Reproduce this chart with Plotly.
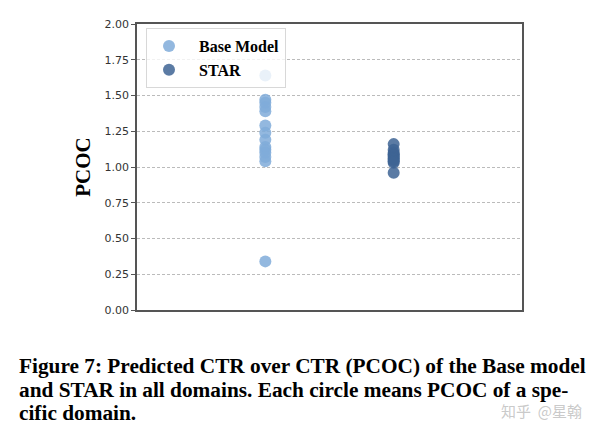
import plotly.graph_objects as go

models = ["Base Model", "STAR"]
base_pcoc = [1.64, 1.47, 1.45, 1.42, 1.39, 1.29, 1.24, 1.19, 1.14, 1.12, 1.10, 1.07, 1.04, 0.34]
star_pcoc = [1.16, 1.12, 1.10, 1.09, 1.08, 1.07, 1.06, 1.05, 1.04, 1.03, 0.96]
y_ticks = [0.0, 0.25, 0.5, 0.75, 1.0, 1.25, 1.5, 1.75, 2.0]
colors = ["rgba(128,172,217,0.85)", "rgba(62,100,148,0.85)"]

W, H = 600, 430
PL, PR, PT, PB = 137, 522, 24, 310
pw, ph = PR - PL, PB - PT

fig = go.Figure()
for i, (name, vals) in enumerate(zip(models, [base_pcoc, star_pcoc])):
    fig.add_trace(go.Scatter(
        x=[i + 1] * len(vals), y=vals, mode="markers",
        name="\u00a0\u00a0<b>" + name + "</b>",
        marker=dict(size=12, color=colors[i], line=dict(width=0)),
    ))

fig.update_layout(
    width=W, height=H,
    margin=dict(l=PL, r=W - PR, t=PT, b=H - PB, autoexpand=False),
    paper_bgcolor="white", plot_bgcolor="white",
    showlegend=True,
    legend=dict(
        x=(146 - PL) / pw, y=1 - (28 - PT) / ph, xanchor="left", yanchor="top",
        bgcolor="rgba(255,255,255,0.8)", bordercolor="#d8d8d8", borderwidth=1,
        font=dict(family="Liberation Serif", size=16, color="black"),
        itemsizing="constant", itemwidth=34, tracegroupgap=0,
    ),
    xaxis=dict(range=[0, 3], showticklabels=False, ticks="", showgrid=False,
               zeroline=False, showline=True, linecolor="#555", linewidth=1.5, mirror=True),
    yaxis=dict(range=[0, 2], tickvals=y_ticks, tickformat=".2f", ticks="outside", ticklen=4,
               tickcolor="#555", tickfont=dict(family="DejaVu Sans", size=11, color="#333"),
               showgrid=True, gridcolor="#bbbbbb", griddash="3px,2px", gridwidth=1,
               zeroline=False, showline=True, linecolor="#555", linewidth=1.5, mirror=True,
               title=dict(text="<b>PCOC</b>", font=dict(family="Liberation Serif", size=21, color="black"),
                          standoff=8)),
)

caption = ["Figure 7: Predicted CTR over CTR (PCOC) of the Base model",
           "and STAR in all domains. Each circle means PCOC of a spe-",
           "cific domain."]
cap_y = [366, 390, 413]
for line, yy in zip(caption, cap_y):
    fig.add_annotation(
        text="<b>" + line + "</b>", xref="paper", yref="paper",
        x=(17 - PL) / pw, y=1 - (yy - PT) / ph, xanchor="left", yanchor="middle",
        showarrow=False, font=dict(family="Liberation Serif", size=21.3, color="black"),
    )
fig.add_annotation(
    text="知乎  @星翰", xref="paper", yref="paper",
    x=(584 - PL) / pw, y=1 - (410 - PT) / ph, xanchor="right", yanchor="middle",
    showarrow=False, font=dict(family="Noto Sans CJK SC", size=15, color="rgba(195,195,195,0.9)"),
)

fig.write_html("out.html", config={"displayModeBar": False},
               post_script="document.body.style.margin='0';document.body.style.overflow='hidden';")
